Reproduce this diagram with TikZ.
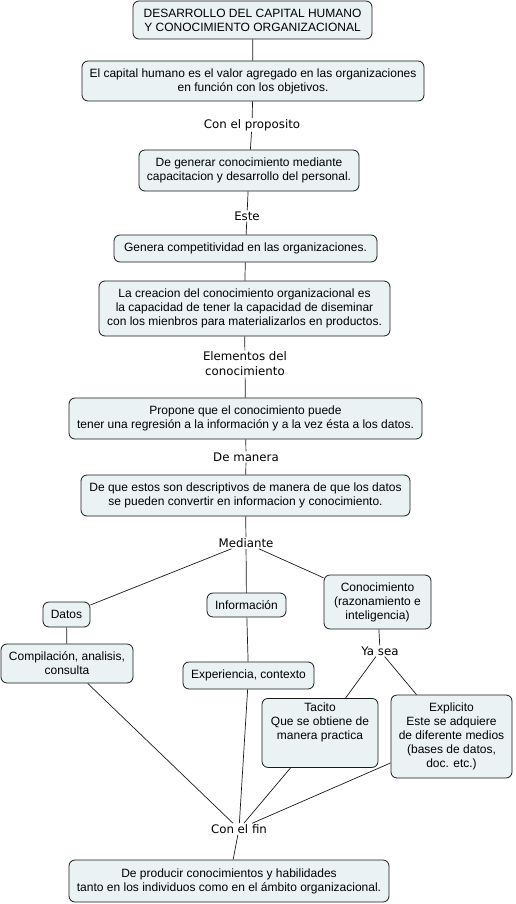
\documentclass[tikz,border=0pt]{standalone}
\usepackage{fontspec}
\newfontfamily\boxfont{Liberation Sans}
\newfontfamily\lblfont{DejaVu Sans}
\definecolor{boxfill}{HTML}{EAF2F4}
\definecolor{edgecol}{HTML}{1A1A1A}
\tikzset{
  box/.style={draw=edgecol, line width=0.8pt, fill=boxfill, rounded corners=6pt, align=center,
    inner sep=0pt, font=\boxfont\fontsize{12}{14}\selectfont, text=black},
  lbl/.style={align=center, inner sep=1pt, font=\lblfont\fontsize{11.8}{15}\selectfont, text=black},
  link/.style={draw=edgecol, line width=0.7pt}
}
\begin{document}
\begin{tikzpicture}[x=1pt,y=-1pt]
\path[use as bounding box, fill=white] (0,0) rectangle (515,904);
\node[box, minimum width=239, minimum height=38] (t) at (252.5,20) {DESARROLLO DEL CAPITAL HUMANO\\Y CONOCIMIENTO ORGANIZACIONAL};
\node[box, minimum width=342, minimum height=40] (c) at (253,81) {El capital humano es el valor agregado en las organizaciones\\en función con los objetivos.};
\node[lbl] (l1) at (252,125) {Con el proposito};
\node[box, minimum width=220, minimum height=41] (g) at (249,170.5) {De generar conocimiento mediante\\capacitacion y desarrollo del personal.};
\node[lbl] (l2) at (247,216) {Este};
\node[box, minimum width=263, minimum height=27] (gc) at (245.5,248.5) {Genera competitividad en las organizaciones.};
\node[box, minimum width=291, minimum height=55] (cr) at (244.5,308.5) {La creacion del conocimiento organizacional es\\la capacidad de tener la capacidad de diseminar\\con los mienbros para materializarlos en productos.};
\node[lbl] (l3) at (245,364) {Elementos del\\conocimiento};
\node[box, minimum width=353, minimum height=41] (p) at (245.5,418.5) {Propone que el conocimiento puede\\tener una regresión a la información y a la vez ésta a los datos.};
\node[lbl] (l4) at (246,457) {De manera};
\node[box, minimum width=329, minimum height=41] (d) at (245.5,495.5) {De que estos son descriptivos de manera de que los datos\\se pueden convertir en informacion y conocimiento.};
\node[lbl] (l5) at (246,543) {Mediante};
\node[box, minimum width=47, minimum height=25] (da) at (66.5,614.5) {Datos};
\node[box, minimum width=79, minimum height=24] (in) at (246.5,605) {Información};
\node[box, minimum width=107, minimum height=54] (co) at (377.5,602) {Conocimiento\\(razonamiento e\\inteligencia)};
\node[box, minimum width=132, minimum height=39] (cp) at (67,663.5) {Compilación, analisis,\\consulta};
\node[box, minimum width=131, minimum height=27] (ex) at (248.5,675.5) {Experiencia, contexto};
\node[lbl] (l6) at (380,651) {Ya sea};
\node[box, minimum width=116, minimum height=69, anchor=north] (ta) at (320,698) {Tacito\\Que se obtiene de\\manera practica\\[9pt]};
\node[box, minimum width=121, minimum height=83] (ep) at (451.5,736.5) {Explicito\\Este se adquiere\\de diferente medios\\(bases de datos,\\doc. etc.)};
\node[lbl] (l7) at (239,829) {Con el fin};
\node[box, minimum width=320, minimum height=42] (f) at (229,881) {De producir conocimientos y habilidades\\tanto en los individuos como en el ámbito organizacional.};
\draw[link] (t) -- (c);
\draw[link] (c) -- (l1); \draw[link] (l1) -- (g);
\draw[link] (g) -- (l2); \draw[link] (l2) -- (gc);
\draw[link] (gc) -- (cr);
\draw[link] (cr) -- (l3); \draw[link] (l3) -- (p);
\draw[link] (p) -- (l4); \draw[link] (l4) -- (d);
\draw[link] (d) -- (l5);
\draw[link] (l5) -- (da); \draw[link] (l5) -- (in); \draw[link] (l5) -- (co);
\draw[link] (da) -- (cp);
\draw[link] (in) -- (ex);
\draw[link] (co) -- (l6); \draw[link] (l6) -- (ta); \draw[link] (l6) -- (ep);
\draw[link] (cp) -- (l7); \draw[link] (ex) -- (l7); \draw[link] (ta) -- (l7); \draw[link] (ep) -- (l7);
\draw[link] (l7) -- (f);
\end{tikzpicture}
\end{document}
